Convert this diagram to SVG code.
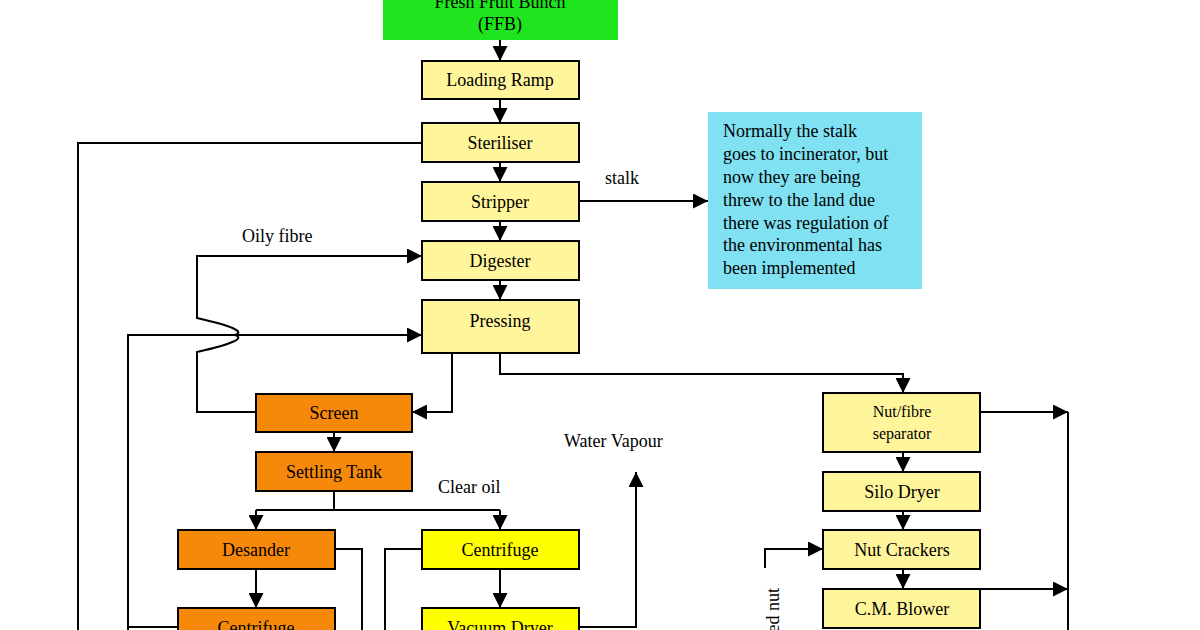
<svg xmlns="http://www.w3.org/2000/svg" width="1200" height="630" viewBox="0 0 1200 630">
<defs>
<marker id="ah" viewBox="0 0 10 10" refX="10" refY="5" markerWidth="16" markerHeight="15" markerUnits="userSpaceOnUse" orient="auto">
<path d="M0,0 L10,5 L0,10 z" fill="#000"/>
</marker>
<style>
.b{stroke:#000;stroke-width:2}
.y{fill:#fff59b}
.o{fill:#f7890a}
.yy{fill:#ffff00}
text{font-family:"Liberation Serif",serif;font-size:18px;fill:#000}
.c{text-anchor:middle}
.l{fill:none;stroke:#000;stroke-width:2}
.a{marker-end:url(#ah)}
</style>
</defs>
<rect width="1200" height="630" fill="#fff"/>
<g id="connectors">
<path class="l a" d="M500,40 V61"/>
<path class="l a" d="M500,99 V123"/>
<path class="l a" d="M500,162 V182"/>
<path class="l a" d="M500,221 V241"/>
<path class="l a" d="M500,280 V300"/>
<path class="l a" d="M579,201 H708"/>
<path class="l" d="M422,143 H78 V630"/>
<path class="l a" d="M256,412 H197 V352 Q250,340 235,335 Q250,330 197,318 V256 H422"/>
<path class="l a" d="M128,627 H178 M128,630 V335 H422"/>
<path class="l a" d="M452,353 V412 H412"/>
<path class="l a" d="M500,353 V374 H903 V393"/>
<path class="l a" d="M334,432 V452"/>
<path class="l" d="M334,491 V510 H500 M256,510 H334"/>
<path class="l a" d="M256,510 V530"/>
<path class="l a" d="M500,510 V530"/>
<path class="l a" d="M256,569 V608"/>
<path class="l a" d="M500,569 V608"/>
<path class="l" d="M335,549 H362 V630"/>
<path class="l" d="M422,549 H385 V630"/>
<path class="l a" d="M579,627 H636 V472"/>
<path class="l a" d="M903,452 V472"/>
<path class="l a" d="M903,511 V530"/>
<path class="l a" d="M903,569 V589"/>
<path class="l a" d="M765,568 V549 H823"/>
<path class="l a" d="M980,412 H1068"/>
<path class="l" d="M1068,412 V630"/>
<path class="l a" d="M980,589 H1068"/>
</g>
<g id="ffb"><rect x="383" y="-5" width="235" height="45" fill="#1ee51e"/><text class="c" x="500" y="8">Fresh Fruit Bunch</text><text class="c" x="500" y="30">(FFB)</text></g>
<g id="loading"><rect class="b y" x="422" y="61" width="157" height="38"/><text class="c" x="500" y="86">Loading Ramp</text></g>
<g id="steriliser"><rect class="b y" x="422" y="123" width="157" height="39"/><text class="c" x="500" y="149">Steriliser</text></g>
<g id="stripper"><rect class="b y" x="422" y="182" width="157" height="39"/><text class="c" x="500" y="208">Stripper</text></g>
<g id="digester"><rect class="b y" x="422" y="241" width="157" height="39"/><text class="c" x="500" y="267">Digester</text></g>
<g id="pressing"><rect class="b y" x="422" y="300" width="157" height="53"/><text class="c" x="500" y="327">Pressing</text></g>
<g id="note"><rect x="708" y="112" width="214" height="177" fill="#7fe1f2"/>
<text x="723" y="137">Normally the stalk</text><text x="723" y="160">goes to incinerator, but</text><text x="723" y="183">now they are being</text><text x="723" y="206">threw to the land due</text><text x="723" y="229">there was regulation of</text><text x="723" y="251">the environmental has</text><text x="723" y="274">been implemented</text></g>
<g id="labels">
<text x="605" y="184">stalk</text>
<text x="242" y="242">Oily fibre</text>
<text x="438" y="493">Clear oil</text>
<text x="564" y="447">Water Vapour</text>
<text transform="translate(779,588) rotate(-90)" text-anchor="end">Cracked nut</text>
</g>
<g id="screen"><rect class="b o" x="256" y="394" width="156" height="38"/><text class="c" x="334" y="419">Screen</text></g>
<g id="settling"><rect class="b o" x="256" y="452" width="156" height="39"/><text class="c" x="334" y="478">Settling Tank</text></g>
<g id="desander"><rect class="b o" x="178" y="530" width="157" height="39"/><text class="c" x="256" y="556">Desander</text></g>
<g id="centrifuge1"><rect class="b o" x="178" y="608" width="157" height="40"/><text class="c" x="256" y="634">Centrifuge</text></g>
<g id="centrifuge2"><rect class="b yy" x="422" y="530" width="157" height="39"/><text class="c" x="500" y="556">Centrifuge</text></g>
<g id="vacuum"><rect class="b yy" x="422" y="608" width="157" height="40"/><text class="c" x="500" y="634">Vacuum Dryer</text></g>
<g id="nutfibre"><rect class="b y" x="823" y="393" width="157" height="59"/><text class="c" x="902" y="417" style="font-size:16px">Nut/fibre</text><text class="c" x="902" y="439" style="font-size:16px">separator</text></g>
<g id="silo"><rect class="b y" x="823" y="472" width="157" height="39"/><text class="c" x="902" y="498">Silo Dryer</text></g>
<g id="crackers"><rect class="b y" x="823" y="530" width="157" height="39"/><text class="c" x="902" y="556">Nut Crackers</text></g>
<g id="blower"><rect class="b y" x="823" y="589" width="157" height="39"/><text class="c" x="902" y="615">C.M. Blower</text></g>
</svg>
